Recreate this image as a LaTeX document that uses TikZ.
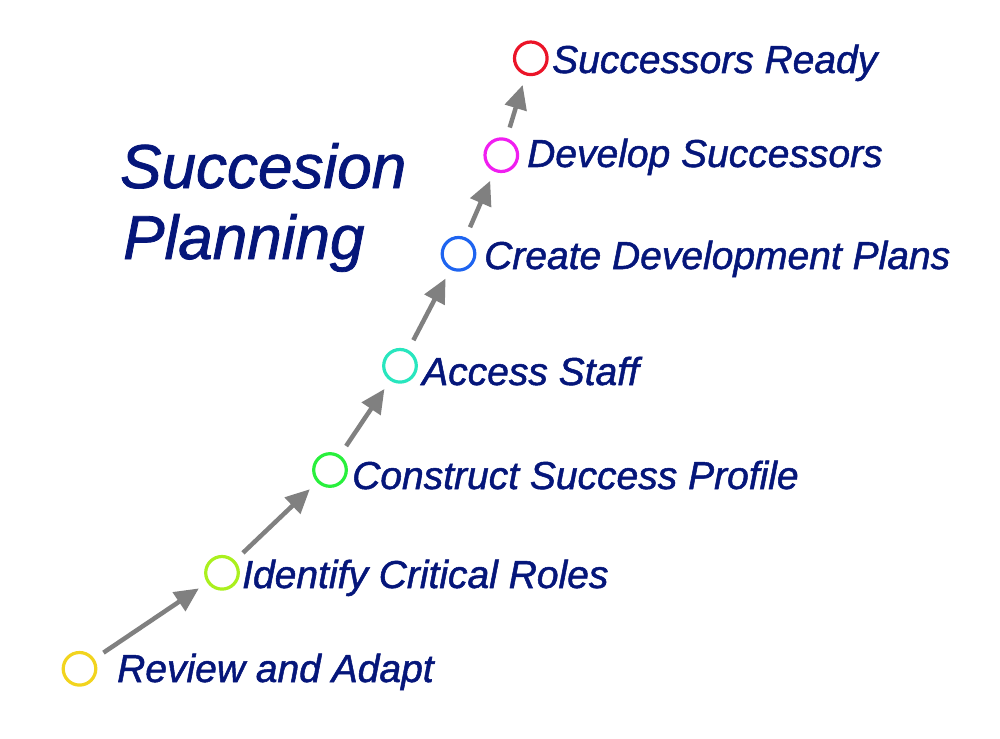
\documentclass[tikz,border=0pt]{standalone}
\usepackage{fontspec}
\setmainfont{Liberation Sans}
\newfontfamily\heavyfont[FakeBold=1.3]{Liberation Sans}
\usetikzlibrary{arrows.meta}
\definecolor{navy}{RGB}{5,22,122}
\definecolor{agray}{RGB}{128,128,128}
\definecolor{cyel}{RGB}{242,212,30}
\definecolor{clime}{RGB}{170,240,30}
\definecolor{cgreen}{RGB}{40,240,60}
\definecolor{cteal}{RGB}{40,230,190}
\definecolor{cblue}{RGB}{30,100,240}
\definecolor{cmag}{RGB}{240,30,240}
\definecolor{cred}{RGB}{235,20,40}
\tikzset{
  ring/.style={circle,draw=#1,line width=3.2pt,minimum size=32.6pt,inner sep=0pt},
  lab/.style={anchor=base west,inner sep=0pt,text=navy,font=\heavyfont\itshape\fontsize{39}{46}\selectfont},
  ttl/.style={anchor=base west,inner sep=0pt,text=navy,font=\heavyfont\itshape\fontsize{62}{70}\selectfont},
  flow/.style={draw=agray,line width=4.5pt,-{Triangle[length=24pt,width=22pt]},shorten <=11pt,shorten >=10pt}
}
\begin{document}
\begin{tikzpicture}[x=1pt,y=-1pt]
\useasboundingbox (0,0) rectangle (1000,738);
\fill[white] (0,0) rectangle (1000,738);
\node[ring=cyel]   (c1) at (79.5,668.8) {};
\node[ring=clime]  (c2) at (222,572.8) {};
\node[ring=cgreen] (c3) at (330,470) {};
\node[ring=cteal]  (c4) at (400,365.8) {};
\node[ring=cblue]  (c5) at (458.5,253.8) {};
\node[ring=cmag]   (c6) at (501.3,155.2) {};
\node[ring=cred]   (c7) at (530.8,58.3) {};
\node[lab] (l1) at (117,682) {Review and Adapt};
\node[lab] (l2) at (242,588) {Identify Critical Roles};
\node[lab] (l3) at (352,489) {Construct Success Profile};
\node[lab] (l4) at (422,385) {Access Staff};
\node[lab] (l5) at (484,269) {Create Development Plans};
\node[lab] (l6) at (527,167) {Develop Successors};
\node[lab] (l7) at (552,73) {Successors Ready};
\node[ttl] (t1) at (120,188) {Succesion};
\node[ttl] (t2) at (123,259) {Planning};
\draw[flow] (c1) -- (c2);
\draw[flow] (c2) -- (c3);
\draw[flow] (c3) -- (c4);
\draw[flow] (c4) -- (c5);
\draw[flow] (c5) -- (c6);
\draw[flow] (c6) -- (c7);
\end{tikzpicture}
\end{document}
